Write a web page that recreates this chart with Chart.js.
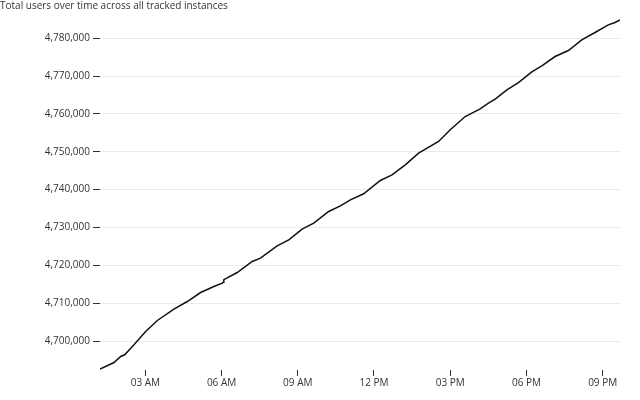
<!DOCTYPE html>
<html lang="en">
<head>
    <meta charset="UTF-8">
    <title>Total users</title>
    <style>
        html, body { margin: 0; padding: 0; background: #fff; }
        #wrap { width: 640px; height: 400px; }
    </style>
</head>
<body>
    <div id="wrap"><canvas id="myChart" width="640" height="400"></canvas></div>
    <script src="https://cdn.jsdelivr.net/npm/chart.js@4"></script>
    <script>
        // hours since midnight
        const horas = [1.215, 1.766, 2.029, 2.186, 2.552, 3.012, 3.472, 4.124, 4.651, 5.174,
            5.697, 6.027, 6.06, 6.09, 6.616, 7.206, 7.532, 8.189, 8.645, 9.171,
            9.627, 10.217, 10.677, 11.070, 11.593, 12.249, 12.709, 13.232, 13.755, 14.541,
            15.001, 15.590, 16.180, 16.506, 16.77, 17.23, 17.685, 18.212, 18.605, 19.128,
            19.651, 20.178, 20.700, 21.223, 21.486, 21.683];
        const usuarios = [4692574, 4694318, 4695904, 4696353, 4698996, 4702511, 4705418, 4708430, 4710439, 4712817,
            4714403, 4715301, 4715500, 4716200, 4718103, 4721009, 4721908, 4725159, 4726744, 4729572,
            4731158, 4734223, 4735729, 4737315, 4738901, 4742415, 4743922, 4746565, 4749657, 4752722,
            4755814, 4759329, 4761364, 4762870, 4763927, 4766385, 4768314, 4771142, 4772727, 4775185,
            4776771, 4779598, 4781528, 4783562, 4784170, 4784884];
        const ticksX = [3, 6, 9, 12, 15, 18, 21];
        const pasoY = 10000;

        function etiquetaHora(h) {
            const sufijo = h < 12 ? 'AM' : 'PM';
            let h12 = h % 12;
            if (h12 === 0) h12 = 12;
            return String(h12).padStart(2, '0') + ' ' + sufijo;
        }

        Chart.defaults.font.family = "'Open Sans', 'Noto Sans', sans-serif";
        Chart.defaults.font.size = 10;
        Chart.defaults.color = '#333';

        const puntos = horas.map((h, i) => ({ x: h, y: usuarios[i] }));

        const ctx = document.getElementById('myChart').getContext('2d');
        const grafico = new Chart(ctx, {
            type: 'line',
            data: {
                datasets: [{
                    data: puntos,
                    borderColor: '#111',
                    borderWidth: 1.5,
                    pointRadius: 0,
                    tension: 0,
                    fill: false,
                }],
            },
            options: {
                responsive: false,
                animation: false,
                layout: { padding: { left: 0, right: 20, top: 0, bottom: 0 } },
                plugins: {
                    legend: { display: false },
                    tooltip: { enabled: false },
                    title: {
                        display: true,
                        text: 'Total users over time across all tracked instances',
                        align: 'start',
                        color: '#333',
                        font: { size: 10, weight: 'normal' },
                        padding: { top: 0, bottom: 7 },
                    },
                },
                scales: {
                    x: {
                        type: 'linear',
                        min: horas[0],
                        max: horas[horas.length - 1],
                        border: { display: false },
                        grid: {
                            drawOnChartArea: false,
                            tickLength: 6,
                            tickColor: '#333',
                        },
                        ticks: {
                            padding: 1,
                            maxRotation: 0,
                            callback: (v) => etiquetaHora(v),
                        },
                        afterBuildTicks: (scale) => {
                            scale.ticks = ticksX.map(v => ({ value: v }));
                        },
                        afterFit: (scale) => { scale.height = 30; },
                    },
                    y: {
                        min: 4692336,
                        max: 4785100,
                        border: { display: false },
                        grid: {
                            color: '#ebebeb',
                            tickColor: '#333',
                            tickLength: 7,
                        },
                        ticks: {
                            padding: 3,
                        },
                        afterBuildTicks: (scale) => {
                            scale.ticks = scale.ticks.filter(t => t.value % pasoY === 0);
                        },
                        afterFit: (scale) => { scale.width = 100; },
                    },
                },
            },
        });
    </script>
</body>
</html>
